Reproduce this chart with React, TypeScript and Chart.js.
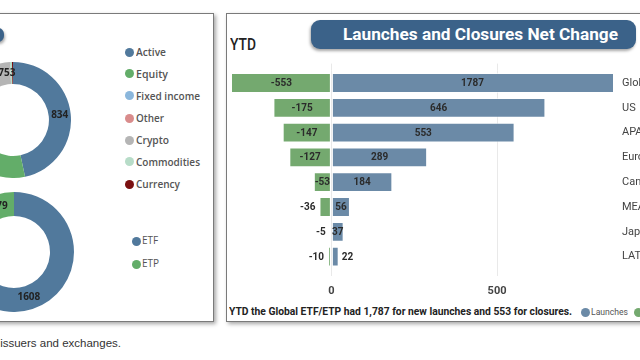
import React, { useEffect, useLayoutEffect, useRef } from "react";
import { Chart, registerables } from "chart.js";

Chart.register(...registerables);

// ---------- data ----------
const assetClasses = ["Active", "Equity", "Fixed income", "Other", "Crypto", "Commodities", "Currency"];
const assetLaunches = [834, 753, 60, 25, 100, 10, 5];
const wrapperTypes = ["ETF", "ETP"];
const wrapperLaunches = [1608, 179];
const regions = ["Global", "US", "APAC", "Europe", "Canada", "MEA", "Japan", "LATAM"];
const launches = [1787, 646, 553, 289, 184, 56, 37, 22];
const closures = [-553, -175, -147, -127, -53, -36, -5, -10];
const xTickValues = [0, 500];

// ---------- styles ----------
const assetColors = ["#51799c", "#63ad69", "#8bb7dc", "#d98c8c", "#b5b5b5", "#b7dcc8", "#7a1010"];
const wrapperColors = ["#51799c", "#63ad69"];
const launchBlue = "#6b8aa7";
const closureGreen = "#74a96f";
const gridColor = "#e9e9e9";
const COND = "'Roboto', 'Liberation Sans', sans-serif";
const UI = "'Open Sans', 'Noto Sans', sans-serif";

const donutLabels = {
  id: "donutLabels",
  afterDatasetsDraw(chart: any) {
    const ctx = chart.ctx;
    const meta = chart.getDatasetMeta(0);
    const data = chart.data.datasets[0].data as number[];
    const total = data.reduce((a, b) => a + b, 0);
    const rect = chart.canvas.getBoundingClientRect();
    ctx.save();
    ctx.font = `bold 10px ${UI}`;
    ctx.fillStyle = "#222";
    ctx.textAlign = "center";
    ctx.textBaseline = "middle";
    meta.data.forEach((arc: any, i: number) => {
      if (data[i] / total < 0.08) return;
      const p = arc.getProps(["x", "y", "startAngle", "endAngle", "innerRadius", "outerRadius"], true);
      let a = (p.startAngle + p.endAngle) / 2;
      const r = (p.innerRadius + p.outerRadius) / 2;
      if (rect.left + p.x + Math.cos(a) * r < -10) a = -Math.PI / 2 - 0.13;
      ctx.fillText(String(data[i]), p.x + Math.cos(a) * r, p.y + Math.sin(a) * r);
    });
    ctx.restore();
  },
};

const gridExtend = {
  id: "gridExtend",
  beforeDatasetsDraw(chart: any) {
    const { ctx, chartArea } = chart;
    const xs = chart.scales.x;
    ctx.save();
    ctx.strokeStyle = gridColor;
    ctx.lineWidth = 1;
    xs.ticks.forEach((t: any) => {
      const px = Math.round(xs.getPixelForValue(t.value)) + 0.5;
      ctx.beginPath();
      ctx.moveTo(px, chartArea.top - 7);
      ctx.lineTo(px, chartArea.top);
      ctx.stroke();
    });
    ctx.restore();
  },
};

const barLabels = {
  id: "barLabels",
  afterDatasetsDraw(chart: any) {
    const { ctx, chartArea } = chart;
    ctx.save();
    ctx.font = `bold 10px ${COND}`;
    ctx.fillStyle = "#2b2b2b";
    ctx.textAlign = "center";
    ctx.textBaseline = "middle";
    chart.data.datasets.forEach((ds: any, di: number) => {
      const meta = chart.getDatasetMeta(di);
      meta.data.forEach((bar: any, i: number) => {
        const v = ds.data[i] as number;
        const p = bar.getProps(["x", "y", "base"], true);
        const l = Math.max(chartArea.left, Math.min(p.x, p.base));
        const r = Math.min(chartArea.right, Math.max(p.x, p.base));
        const t = String(v);
        const tw = ctx.measureText(t).width;
        let cx: number;
        if (r - l >= tw) cx = (l + r) / 2;
        else cx = v >= 0 ? r + 3 + tw / 2 : l - 4 - tw / 2;
        ctx.fillText(t, cx, p.y + 0.5);
      });
    });
    ctx.restore();
  },
};

function FitText(props: { text: string; left: number; top: number; width: number; font: string; color: string; height: number }) {
  const ref = useRef<HTMLSpanElement>(null);
  useLayoutEffect(() => {
    const el = ref.current as HTMLSpanElement;
    el.style.transform = "none";
    const w = el.getBoundingClientRect().width;
    if (w > 0) el.style.transform = `scaleX(${props.width / w})`;
  }, []);
  return (
    <span
      ref={ref}
      style={{
        position: "absolute",
        left: props.left,
        top: props.top,
        font: props.font,
        color: props.color,
        lineHeight: `${props.height}px`,
        whiteSpace: "nowrap",
        transformOrigin: "0 50%",
        display: "inline-block",
      }}
    >
      {props.text}
    </span>
  );
}

function Donut(props: { labels: string[]; values: number[]; colors: string[]; left: number; top: number; size: number; cutout: string }) {
  const ref = useRef<HTMLCanvasElement>(null);
  useEffect(() => {
    const chart = new Chart(ref.current as HTMLCanvasElement, {
      type: "doughnut",
      data: {
        labels: props.labels,
        datasets: [{ data: props.values, backgroundColor: props.colors, borderWidth: 0 }],
      },
      options: {
        responsive: false,
        animation: false,
        cutout: props.cutout,
        layout: { padding: 0 },
        plugins: { legend: { display: false }, tooltip: { enabled: false } },
      },
      plugins: [donutLabels],
    } as any);
    return () => chart.destroy();
  }, []);
  return (
    <canvas
      ref={ref}
      width={props.size}
      height={props.size}
      style={{ position: "absolute", left: props.left, top: props.top, width: props.size, height: props.size }}
    />
  );
}

function NetChangeBars() {
  const ref = useRef<HTMLCanvasElement>(null);
  useEffect(() => {
    const chart = new Chart(ref.current as HTMLCanvasElement, {
      type: "bar",
      data: {
        labels: regions,
        datasets: [
          {
            label: "Closures",
            data: closures,
            backgroundColor: closureGreen,
            borderColor: "rgba(255,255,255,0.55)",
            borderWidth: 1,
            borderSkipped: false,
            barPercentage: 0.8,
            categoryPercentage: 1,
          },
          {
            label: "Launches",
            data: launches,
            backgroundColor: launchBlue,
            borderColor: "rgba(255,255,255,0.55)",
            borderWidth: 1,
            borderSkipped: false,
            barPercentage: 0.8,
            categoryPercentage: 1,
          },
        ],
      },
      options: {
        indexAxis: "y",
        responsive: false,
        animation: false,
        layout: { padding: { left: 6, top: 14.6, right: 0, bottom: 0 } },
        plugins: { legend: { display: false }, tooltip: { enabled: false } },
        scales: {
          x: {
            stacked: true,
            min: -300,
            max: 850,
            afterBuildTicks: (s: any) => {
              s.ticks = xTickValues.map((v) => ({ value: v }));
            },
            grid: { color: gridColor, lineWidth: 1, drawTicks: true, tickLength: 7 },
            border: { display: false },
            ticks: { font: { family: COND, size: 11, weight: "bold" }, color: "#444", padding: 9 },
            afterFit: (s: any) => {
              s.height = 30;
            },
          },
          y: {
            stacked: true,
            position: "right",
            grid: { display: false, drawTicks: false },
            border: { display: false },
            ticks: { font: { family: COND, size: 11 }, color: "#444", padding: 9 },
            afterFit: (s: any) => {
              s.width = 60;
            },
          },
        },
      },
      plugins: [gridExtend, barLabels],
    } as any);
    return () => chart.destroy();
  }, []);
  return (
    <canvas ref={ref} width={447} height={244} style={{ position: "absolute", left: 226, top: 55, width: 447, height: 244 }} />
  );
}

function Dot({ x, y, r, color }: { x: number; y: number; r: number; color: string }) {
  return (
    <div
      style={{
        position: "absolute",
        left: x - r,
        top: y - r,
        width: 2 * r,
        height: 2 * r,
        borderRadius: "50%",
        background: color,
      }}
    />
  );
}

export default function App() {
  const legendTop = [52, 73.5, 95.5, 118, 140, 161.5, 184];
  const wrapperTop = [241, 264];
  return (
    <div
      style={{
        position: "fixed",
        left: 0,
        top: 0,
        width: 640,
        height: 360,
        overflow: "hidden",
        background: "#fff",
      }}
    >
      {/* left panel */}
      <div
        style={{
          position: "absolute",
          left: -20,
          top: 13,
          width: 232,
          height: 307,
          border: "1.5px solid #7a7a7a",
          boxShadow: "2px 2px 4px rgba(0,0,0,0.35)",
          background: "#fff",
        }}
      />
      <div
        style={{
          position: "absolute",
          left: -40,
          top: 28,
          width: 44,
          height: 14,
          borderRadius: 6,
          background: "#3b6289",
          boxShadow: "1px 2px 3px rgba(0,0,0,0.35)",
        }}
      />
      <Donut labels={assetClasses} values={assetLaunches} colors={assetColors} left={-45} top={62} size={116} cutout="62%" />
      <Donut labels={wrapperTypes} values={wrapperLaunches} colors={wrapperColors} left={-46.5} top={192} size={120} cutout="60%" />
      {assetClasses.map((c, i) => (
        <React.Fragment key={c}>
          <Dot x={129.5} y={legendTop[i]} r={4.5} color={assetColors[i]} />
          <FitText
            text={c}
            left={136}
            top={legendTop[i] - 8}
            height={16}
            width={[30, 32, 64, 28, 33, 64, 44][i]}
            font={`600 11px ${UI}`}
            color="#555"
          />
        </React.Fragment>
      ))}
      {wrapperTypes.map((c, i) => (
        <React.Fragment key={c}>
          <Dot x={136} y={wrapperTop[i]} r={4.5} color={wrapperColors[i]} />
          <div
            style={{
              position: "absolute",
              left: 142,
              top: wrapperTop[i] - 8,
              height: 16,
              lineHeight: "16px",
              font: `10px ${UI}`,
              color: "#555",
              whiteSpace: "nowrap",
            }}
          >
            {c}
          </div>
        </React.Fragment>
      ))}

      {/* right panel */}
      <div
        style={{
          position: "absolute",
          left: 226,
          top: 13,
          width: 440,
          height: 307,
          border: "1.5px solid #7a7a7a",
          boxShadow: "2px 2px 4px rgba(0,0,0,0.35)",
          background: "#fff",
        }}
      />
      <FitText text="YTD" left={230} top={36} height={18} width={26} font={`500 16px ${COND}`} color="#222" />
      <div
        style={{
          position: "absolute",
          left: 311,
          top: 20,
          width: 325,
          height: 29,
          borderRadius: 9,
          background: "#3b6289",
          boxShadow: "-1px 2px 3px rgba(0,0,0,0.35)",
        }}
      />
      <FitText
        text="Launches and Closures Net Change"
        left={343}
        top={20}
        height={29}
        width={275}
        font={`bold 17px ${COND}`}
        color="#fff"
      />
      <NetChangeBars />
      <FitText
        text="YTD the Global ETF/ETP had 1,787 for new launches and 553 for closures."
        left={229}
        top={304}
        height={16}
        width={343}
        font={`bold 11px ${COND}`}
        color="#222"
      />
      <Dot x={585.5} y={312} r={4.5} color={launchBlue} />
      <FitText text="Launches" left={591} top={305} height={14} width={37} font={`9.5px ${COND}`} color="#555" />
      <Dot x={638} y={312} r={4.5} color={closureGreen} />

      {/* footnote */}
      <div
        style={{
          position: "absolute",
          right: 519,
          top: 335,
          font: `11.5px 'Liberation Sans', 'Open Sans', sans-serif`,
          color: "#333",
          lineHeight: "16px",
          whiteSpace: "nowrap",
        }}
      >
        issuers and exchanges.
      </div>
    </div>
  );
}
